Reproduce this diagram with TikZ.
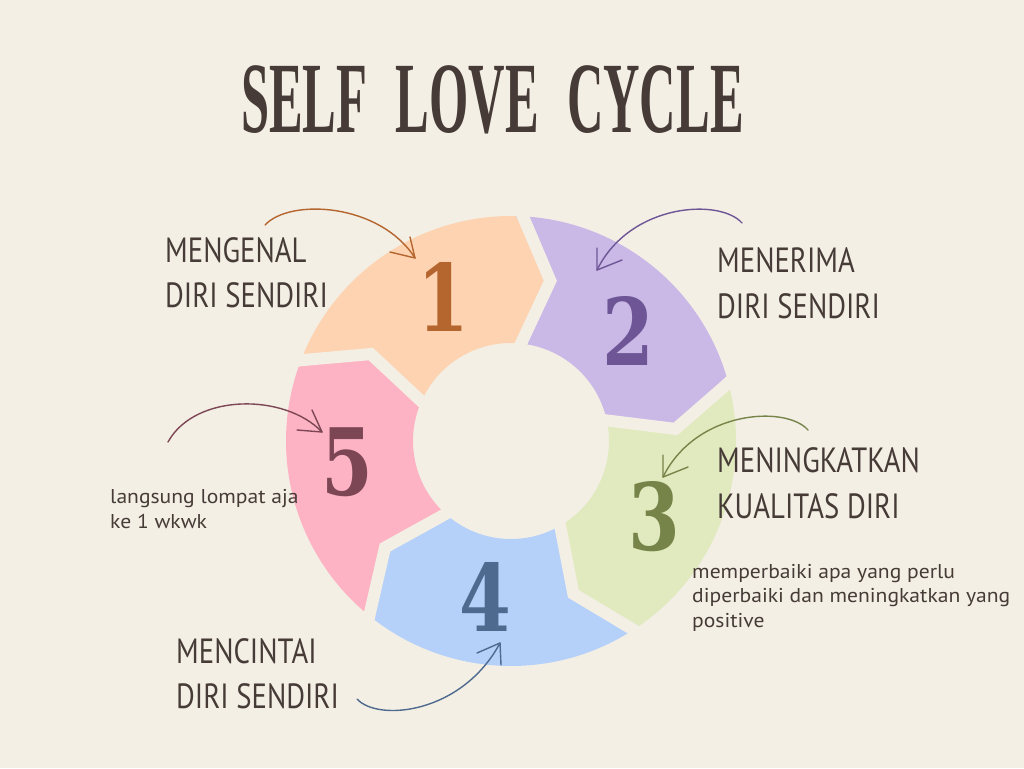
\documentclass[tikz,border=0pt]{standalone}
\usepackage{fontspec}
\newfontfamily\titlefont{Liberation Serif}[FakeStretch=0.5]
\newfontfamily\labelfont{PT Sans}[FakeStretch=0.82]
\newfontfamily\notefont{PT Sans}[FakeStretch=1.08]
\newfontfamily\digitfont{DejaVu Serif}[FakeStretch=0.8]
\definecolor{bgc}{HTML}{F3EFE5}
\definecolor{ink}{HTML}{463B37}
\definecolor{segA}{HTML}{FDD3B1}
\definecolor{segB}{HTML}{CAB8E6}
\definecolor{segC}{HTML}{E1EABE}
\definecolor{segD}{HTML}{B6D1F9}
\definecolor{segE}{HTML}{FDB3C4}
\definecolor{numA}{HTML}{B5652E}
\definecolor{numB}{HTML}{6E5696}
\definecolor{numC}{HTML}{76844A}
\definecolor{numD}{HTML}{4E6A8E}
\definecolor{numE}{HTML}{7C4655}
\tikzset{
  titletext/.style={inner sep=0pt, text=ink, font=\titlefont\bfseries\fontsize{101}{101}\selectfont},
  labeltext/.style={inner sep=0pt, anchor=base west, text=ink, font=\labelfont\fontsize{35}{35}\selectfont},
  notetext/.style={inner sep=0pt, anchor=base west, text=ink, font=\notefont\fontsize{20}{20}\selectfont},
  digittext/.style={inner sep=0pt, font=\digitfont\bfseries\fontsize{93}{93}\selectfont},
  gapline/.style={draw=bgc, line width=12, line join=miter, miter limit=20},
  handarrow/.style={line width=1.4, line cap=round, line join=round},
}
\newcommand{\ringseg}[2]{% #1 = tail angle, #2 = colour
  \pgfmathsetmacro{\hd}{#1-72}
  \fill[#2] (#1:225) arc[start angle=#1, end angle=\hd, radius=225]
    -- (\hd-12.5:165) -- (\hd-1.5:98)
    arc[start angle=\hd-1.5, end angle=#1-1.5, radius=98]
    -- (#1-12.5:165) -- cycle;
}
\begin{document}
\begin{tikzpicture}[x=1pt, y=-1pt]
\fill[bgc] (0,0) rectangle (1024,768);
\useasboundingbox (0,0) rectangle (1024,768);

% title
\node[titletext, anchor=base] (title) at (492.5,132) {SELF\hspace{0.28em}LOVE\hspace{0.28em}CYCLE};

% ring
\begin{scope}[shift={(511,441)}, yscale=-1]
  \ringseg{160.7}{segA}
  \ringseg{88.7}{segB}
  \ringseg{16.7}{segC}
  \ringseg{-55.3}{segD}
  \ringseg{-127.3}{segE}
  \foreach \b in {160.7, 88.7, 16.7, -55.3, -127.3} {
    \draw[gapline] (\b:240) -- (\b-12.5:165) -- (\b-1.5:85);
  }
\end{scope}

% numbers
\node[digittext, text=numA] (n1) at (443,297) {1};
\node[digittext, text=numB] (n2) at (628,331) {2};
\node[digittext, text=numC] (n3) at (654,517) {3};
\node[digittext, text=numD] (n4) at (485,597) {4};
\node[digittext, text=numE] (n5) at (347,462) {5};

% labels
\node[labeltext] (l1a) at (165,262) {MENGENAL};
\node[labeltext] (l1b) at (165,307) {DIRI SENDIRI};
\node[labeltext] (l2a) at (717,272) {MENERIMA};
\node[labeltext] (l2b) at (717,318) {DIRI SENDIRI};
\node[labeltext] (l3a) at (717,472) {MENINGKATKAN};
\node[labeltext] (l3b) at (717,518) {KUALITAS DIRI};
\node[labeltext] (l4a) at (176,663) {MENCINTAI};
\node[labeltext] (l4b) at (176,708) {DIRI SENDIRI};

\node[notetext] (m1) at (692,578) {memperbaiki apa yang perlu};
\node[notetext] (m2) at (692,602) {diperbaiki dan meningkatkan yang};
\node[notetext] (m3) at (692,627) {positive};
\node[notetext] (k1) at (110,503) {langsung lompat aja};
\node[notetext] (k2) at (110,528) {ke 1 wkwk};

% arrows
\coordinate (a1s) at (265,225); \coordinate (a1t) at (415,258);
\coordinate (a1h) at (410,237); \coordinate (a1k) at (390,252);
\draw[handarrow, numA] (a1s) .. controls (290,198) and (380,203) .. (a1t);
\draw[handarrow, numA] (a1h) -- (a1t) -- (a1k);

\coordinate (a2s) at (742,223); \coordinate (a2t) at (597,270);
\coordinate (a2h) at (597,248); \coordinate (a2k) at (622,260);
\draw[handarrow, numB] (a2s) .. controls (720,198) and (630,203) .. (a2t);
\draw[handarrow, numB] (a2h) -- (a2t) -- (a2k);

\coordinate (a3s) at (808,430); \coordinate (a3t) at (663,477);
\coordinate (a3h) at (663,455); \coordinate (a3k) at (688,467);
\draw[handarrow, numC] (a3s) .. controls (786,405) and (696,410) .. (a3t);
\draw[handarrow, numC] (a3h) -- (a3t) -- (a3k);

\coordinate (a4s) at (357,699); \coordinate (a4t) at (500,643);
\coordinate (a4h) at (477,653); \coordinate (a4k) at (501,665);
\draw[handarrow, numD] (a4s) .. controls (378,722) and (462,714) .. (a4t);
\draw[handarrow, numD] (a4h) -- (a4t) -- (a4k);

\coordinate (a5s) at (168,442); \coordinate (a5t) at (322,432);
\coordinate (a5h) at (312,410); \coordinate (a5k) at (297,430);
\draw[handarrow, numE] (a5s) .. controls (195,393) and (285,393) .. (a5t);
\draw[handarrow, numE] (a5h) -- (a5t) -- (a5k);
\end{tikzpicture}
\end{document}
